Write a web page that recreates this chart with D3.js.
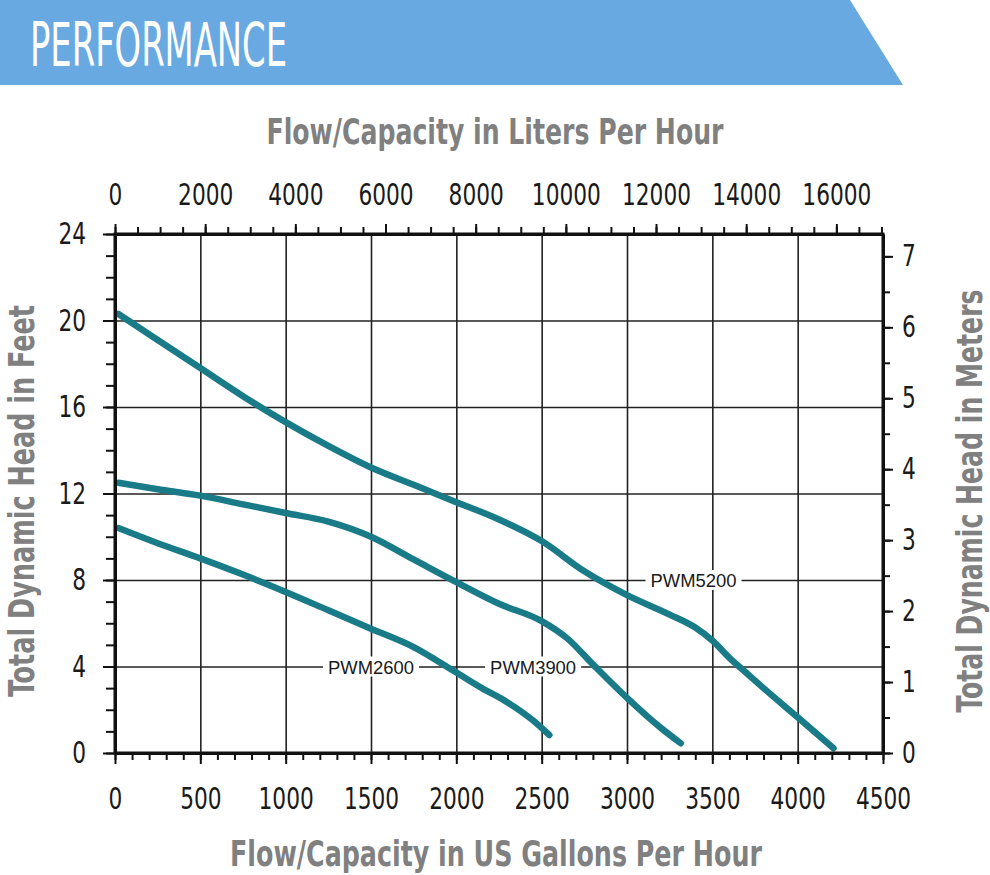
<!DOCTYPE html>
<html>
<head>
<meta charset="utf-8">
<script src="https://cdn.jsdelivr.net/npm/d3@7"></script>
<style>
  body { margin: 0; background: #fff; }
  svg { display: block; }
</style>
</head>
<body>
<svg id="chart" width="990" height="875"></svg>
<script>
// tick values for the four axes
const gallonTicks = [0, 500, 1000, 1500, 2000, 2500, 3000, 3500, 4000, 4500];
const literTicks = [0, 2000, 4000, 6000, 8000, 10000, 12000, 14000, 16000];
const feetTicks = [0, 4, 8, 12, 16, 20, 24];
const meterTicks = [0, 1, 2, 3, 4, 5, 6, 7];

// pump curves: [US gallons per hour, feet of head]
const pwm2600 = [[20, 10.4], [250, 9.7], [500, 9.0], [750, 8.25], [1000, 7.45], [1250, 6.6],
  [1500, 5.75], [1750, 4.9], [2000, 3.72], [2150, 3.0], [2300, 2.34], [2450, 1.5], [2545, 0.83]];
const pwm3900 = [[20, 12.5], [250, 12.2], [500, 11.9], [750, 11.5], [1000, 11.1], [1250, 10.7],
  [1500, 10.0], [1750, 8.95], [2000, 7.9], [2250, 6.9], [2500, 6.1], [2650, 5.3], [2800, 4.1],
  [3000, 2.55], [3200, 1.15], [3315, 0.45]];
const pwm5200 = [[20, 20.3], [250, 19.1], [500, 17.8], [750, 16.5], [1000, 15.3], [1250, 14.2],
  [1500, 13.2], [1750, 12.4], [2000, 11.6], [2250, 10.8], [2500, 9.8], [2750, 8.4], [3000, 7.3],
  [3250, 6.4], [3400, 5.8], [3500, 5.2], [3600, 4.4], [3700, 3.7], [3800, 3.0], [4000, 1.65],
  [4210, 0.22]];

const modelNames = ["PWM2600", "PWM3900", "PWM5200"];
const modelCurves = [pwm2600, pwm3900, pwm5200];
// where each model name sits on the grid: [gallons, feet]
const modelLabelAt = [[1500, 4], [2450, 4], [3390, 8]];

const GAL_TO_L = 3.78541;
const FT_TO_M = 0.3048;

const svg = d3.select("#chart");
const plotLeft = 115, plotRight = 883, plotTop = 234, plotBottom = 753;
const narrow = "'Liberation Sans Narrow', 'DejaVu Sans Condensed', 'Arial Narrow', sans-serif";
const ink = "#1a1a1a";
const teal = "#1a7b88";
const grey = "#808080";

const x = d3.scaleLinear().domain([0, 4500]).range([plotLeft, plotRight]);
const xL = d3.scaleLinear().domain([0, 4500 * GAL_TO_L]).range([plotLeft, plotRight]);
const y = d3.scaleLinear().domain([0, 24]).range([plotBottom, plotTop]);
const yM = d3.scaleLinear().domain([0, 24 * FT_TO_M]).range([plotBottom, plotTop]);

// banner
svg.append("polygon")
    .attr("points", "0,0 850,0 903,85 0,85")
    .attr("fill", "#69a9e2");
svg.append("text")
    .attr("x", 30).attr("y", 66)
    .attr("fill", "#fff")
    .attr("font-family", narrow)
    .attr("font-size", 60)
    .attr("textLength", 257)
    .attr("lengthAdjust", "spacingAndGlyphs")
    .text("PERFORMANCE");

// grid
svg.append("g")
    .attr("transform", `translate(0,${plotBottom})`)
    .call(d3.axisBottom(x).tickValues(gallonTicks.slice(1, -1)).tickSize(-(plotBottom - plotTop)).tickFormat(""))
    .call(g => g.select(".domain").remove())
    .call(g => g.selectAll("line").attr("stroke", "#222").attr("stroke-width", 1.6));
svg.append("g")
    .attr("transform", `translate(${plotLeft},0)`)
    .call(d3.axisLeft(y).tickValues(feetTicks.slice(1, -1)).tickSize(-(plotRight - plotLeft)).tickFormat(""))
    .call(g => g.select(".domain").remove())
    .call(g => g.selectAll("line").attr("stroke", "#222").attr("stroke-width", 1.6));

// model names sit in a white gap in the grid line
modelNames.forEach(function (name, i) {
  const px = x(modelLabelAt[i][0]), py = y(modelLabelAt[i][1]);
  const lbl = svg.append("g");
  lbl.append("rect")
      .attr("x", px - 48).attr("y", py - 10)
      .attr("width", 96).attr("height", 20)
      .attr("fill", "#fff");
  lbl.append("text")
      .attr("x", px).attr("y", py + 7)
      .attr("text-anchor", "middle")
      .attr("fill", ink)
      .attr("font-family", "'Liberation Sans', Arial, sans-serif")
      .attr("font-size", 18)
      .attr("textLength", 86)
      .attr("lengthAdjust", "spacingAndGlyphs")
      .text(name);
});

// curves
const line = d3.line()
    .x(d => x(d[0]))
    .y(d => y(d[1]))
    .curve(d3.curveMonotoneX);
svg.append("g")
  .selectAll("path")
  .data(modelCurves)
  .enter()
  .append("path")
    .attr("d", line)
    .attr("fill", "none")
    .attr("stroke", teal)
    .attr("stroke-width", 6.5)
    .attr("stroke-linecap", "round")
    .attr("stroke-linejoin", "round");

// axes
function styleAxis(g, size) {
  g.select(".domain").attr("stroke", "#111").attr("stroke-width", 3);
  g.selectAll(".tick line").attr("stroke", "#111").attr("stroke-width", 2);
  g.selectAll("text")
      .attr("fill", ink)
      .attr("font-family", narrow)
      .attr("font-size", size)
      .each(function () {
        // the reference digits are narrow, squeeze ours to the same width
        const n = this.textContent.length;
        if (n) d3.select(this).attr("textLength", n * 13.8).attr("lengthAdjust", "spacingAndGlyphs");
      });
}
function minor(axis) {
  return axis.tickFormat("").tickSizeOuter(0);
}
const plain = d3.format("d");

// bottom: gallons
svg.append("g")
    .attr("transform", `translate(0,${plotBottom})`)
    .call(minor(d3.axisBottom(x).tickValues(d3.range(0, 4501, 100)).tickSize(7)))
    .call(g => styleAxis(g, 30));
svg.append("g")
    .attr("transform", `translate(0,${plotBottom})`)
    .call(d3.axisBottom(x).tickValues(gallonTicks).tickFormat(plain).tickSize(11).tickSizeOuter(0).tickPadding(24))
    .call(g => styleAxis(g, 30));

// top: liters
svg.append("g")
    .attr("transform", `translate(0,${plotTop})`)
    .call(minor(d3.axisTop(xL).tickValues(d3.range(0, 17001, 500)).tickSize(7)))
    .call(g => styleAxis(g, 30));
svg.append("g")
    .attr("transform", `translate(0,${plotTop})`)
    .call(d3.axisTop(xL).tickValues(literTicks).tickFormat(plain).tickSize(10).tickSizeOuter(0).tickPadding(19))
    .call(g => styleAxis(g, 30));

// left: feet
svg.append("g")
    .attr("transform", `translate(${plotLeft},0)`)
    .call(minor(d3.axisLeft(y).tickValues(d3.range(0, 25, 1)).tickSize(9)))
    .call(g => styleAxis(g, 30));
svg.append("g")
    .attr("transform", `translate(${plotLeft},0)`)
    .call(d3.axisLeft(y).tickValues(feetTicks).tickFormat(plain).tickSize(12).tickSizeOuter(0).tickPadding(17))
    .call(g => styleAxis(g, 30));

// right: meters
svg.append("g")
    .attr("transform", `translate(${plotRight},0)`)
    .call(minor(d3.axisRight(yM).tickValues(d3.range(0, 7.3, 0.5)).tickSize(7)))
    .call(g => styleAxis(g, 30));
svg.append("g")
    .attr("transform", `translate(${plotRight},0)`)
    .call(d3.axisRight(yM).tickValues(meterTicks).tickFormat(plain).tickSize(10).tickSizeOuter(0).tickPadding(9))
    .call(g => styleAxis(g, 30));

// frame edges the axes leave open
svg.append("path")
    .attr("d", `M${plotLeft},${plotTop}H${plotRight}V${plotBottom}H${plotLeft}Z`)
    .attr("fill", "none")
    .attr("stroke", "#111")
    .attr("stroke-width", 3);

// axis titles
function title(txt, tx, ty, len, rot) {
  svg.append("text")
      .attr("transform", `translate(${tx},${ty})` + (rot ? " rotate(-90)" : ""))
      .attr("text-anchor", "middle")
      .attr("fill", grey)
      .attr("font-family", narrow)
      .attr("font-weight", "bold")
      .attr("font-size", 35)
      .attr("textLength", len)
      .attr("lengthAdjust", "spacingAndGlyphs")
      .text(txt);
}
title("Flow/Capacity in Liters Per Hour", 495, 144, 457, false);
title("Flow/Capacity in US Gallons Per Hour", 496, 866, 532, false);
title("Total Dynamic Head in Feet", 34, 501, 392, true);
title("Total Dynamic Head in Meters", 982, 501, 423, true);
</script>
</body>
</html>
